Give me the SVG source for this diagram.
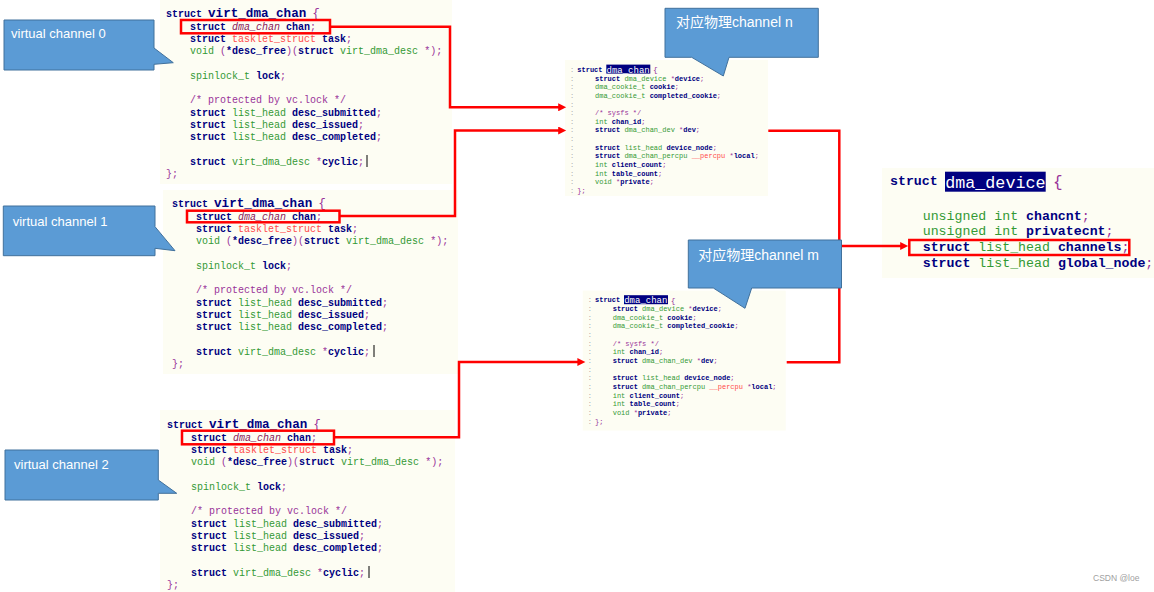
<svg xmlns="http://www.w3.org/2000/svg" width="1154" height="592" viewBox="0 0 1154 592">
<style>
.code{font-family:"Liberation Mono",monospace;font-size:10px;fill:#000080}
.small{font-family:"Liberation Mono",monospace;font-size:7px;fill:#000080}
.dev{font-family:"Liberation Mono",monospace;font-size:13.25px;fill:#000080}
.k{fill:#000080;font-weight:bold}
.g{fill:#339933}
.p{fill:#993399}
.r{fill:#ff4b4b}
.i{fill:#8b1a5a;font-style:italic}
.gut{fill:#aaaaaa}
.cbg{fill:#fdfdf3}
.hl{stroke:#ff0000;stroke-width:2.5;fill:none}
.wire{stroke:#ff0000;stroke-width:2.5;fill:none}
.callout{fill:#5b9bd5;stroke:#41719c;stroke-width:1}
.ctext{font-family:"Liberation Sans","Noto Sans CJK SC",sans-serif;font-size:13px;fill:#ffffff}
.cjk{font-size:14px}
.cursor{stroke:#000;stroke-width:1}
.big{font-size:12.6px}
.hlt{font-family:"Liberation Mono",monospace;fill:#ffffff}
</style>
<defs>
<marker id="arr" viewBox="0 0 10 10" refX="2" refY="5" markerWidth="9" markerHeight="8" markerUnits="userSpaceOnUse" orient="auto">
<path d="M0,0 L10,5 L0,10 z" fill="#ff0000"/>
</marker>
</defs>
<rect width="1154" height="592" fill="#ffffff"/>

<!-- virtual channel 0 code -->
<g id="virt-chan-0">
<rect class="cbg" x="160" y="0" width="292" height="184"/>
<text class="code" x="166" y="17"><tspan class="k">struct</tspan> <tspan class="k big">virt_dma_chan</tspan> <tspan class="p big">{</tspan></text>
<text class="code" x="190" y="29.5"><tspan class="k">struct</tspan> <tspan class="i">dma_chan</tspan> <tspan class="k">chan</tspan><tspan class="p">;</tspan></text>
<text class="code" x="190" y="41.8"><tspan class="k">struct</tspan> <tspan class="r">tasklet_struct</tspan> <tspan class="k">task</tspan><tspan class="p">;</tspan></text>
<text class="code" x="190" y="54.1"><tspan class="g">void</tspan> <tspan class="p">(</tspan><tspan class="k">*desc_free</tspan><tspan class="p">)(</tspan><tspan class="k">struct</tspan> <tspan class="g">virt_dma_desc</tspan> <tspan class="p">*);</tspan></text>
<text class="code" x="190" y="78.7"><tspan class="g">spinlock_t</tspan> <tspan class="k">lock</tspan><tspan class="p">;</tspan></text>
<text class="code" x="190" y="103.3"><tspan class="p">/* protected by vc.lock */</tspan></text>
<text class="code" x="190" y="115.6"><tspan class="k">struct</tspan> <tspan class="g">list_head</tspan> <tspan class="k">desc_submitted</tspan><tspan class="p">;</tspan></text>
<text class="code" x="190" y="127.9"><tspan class="k">struct</tspan> <tspan class="g">list_head</tspan> <tspan class="k">desc_issued</tspan><tspan class="p">;</tspan></text>
<text class="code" x="190" y="140.2"><tspan class="k">struct</tspan> <tspan class="g">list_head</tspan> <tspan class="k">desc_completed</tspan><tspan class="p">;</tspan></text>
<text class="code" x="190" y="164.8"><tspan class="k">struct</tspan> <tspan class="g">virt_dma_desc</tspan> <tspan class="p">*</tspan><tspan class="k">cyclic</tspan><tspan class="p">;</tspan></text>
<text class="code" x="166" y="177.1"><tspan class="p">};</tspan></text>
<line class="cursor" x1="367" y1="155" x2="367" y2="167"/>
<rect class="hl" x="181" y="20" width="149" height="13.3"/>
</g>

<!-- virtual channel 1 code -->
<g id="virt-chan-1" transform="translate(6,190)">
<rect class="cbg" x="157" y="0" width="295" height="184"/>
<text class="code" x="166" y="17"><tspan class="k">struct</tspan> <tspan class="k big">virt_dma_chan</tspan> <tspan class="p big">{</tspan></text>
<text class="code" x="190" y="29.5"><tspan class="k">struct</tspan> <tspan class="i">dma_chan</tspan> <tspan class="k">chan</tspan><tspan class="p">;</tspan></text>
<text class="code" x="190" y="41.8"><tspan class="k">struct</tspan> <tspan class="r">tasklet_struct</tspan> <tspan class="k">task</tspan><tspan class="p">;</tspan></text>
<text class="code" x="190" y="54.1"><tspan class="g">void</tspan> <tspan class="p">(</tspan><tspan class="k">*desc_free</tspan><tspan class="p">)(</tspan><tspan class="k">struct</tspan> <tspan class="g">virt_dma_desc</tspan> <tspan class="p">*);</tspan></text>
<text class="code" x="190" y="78.7"><tspan class="g">spinlock_t</tspan> <tspan class="k">lock</tspan><tspan class="p">;</tspan></text>
<text class="code" x="190" y="103.3"><tspan class="p">/* protected by vc.lock */</tspan></text>
<text class="code" x="190" y="115.6"><tspan class="k">struct</tspan> <tspan class="g">list_head</tspan> <tspan class="k">desc_submitted</tspan><tspan class="p">;</tspan></text>
<text class="code" x="190" y="127.9"><tspan class="k">struct</tspan> <tspan class="g">list_head</tspan> <tspan class="k">desc_issued</tspan><tspan class="p">;</tspan></text>
<text class="code" x="190" y="140.2"><tspan class="k">struct</tspan> <tspan class="g">list_head</tspan> <tspan class="k">desc_completed</tspan><tspan class="p">;</tspan></text>
<text class="code" x="190" y="164.8"><tspan class="k">struct</tspan> <tspan class="g">virt_dma_desc</tspan> <tspan class="p">*</tspan><tspan class="k">cyclic</tspan><tspan class="p">;</tspan></text>
<text class="code" x="166" y="177.1"><tspan class="p">};</tspan></text>
<line class="cursor" x1="368" y1="155" x2="368" y2="167"/>
<rect class="hl" x="181" y="20.7" width="152.5" height="11.6"/>
</g>

<!-- virtual channel 2 code -->
<g id="virt-chan-2" transform="translate(1,411)">
<rect class="cbg" x="159" y="-1" width="295" height="182"/>
<text class="code" x="166" y="17"><tspan class="k">struct</tspan> <tspan class="k big">virt_dma_chan</tspan> <tspan class="p big">{</tspan></text>
<text class="code" x="190" y="29.5"><tspan class="k">struct</tspan> <tspan class="i">dma_chan</tspan> <tspan class="k">chan</tspan><tspan class="p">;</tspan></text>
<text class="code" x="190" y="41.8"><tspan class="k">struct</tspan> <tspan class="r">tasklet_struct</tspan> <tspan class="k">task</tspan><tspan class="p">;</tspan></text>
<text class="code" x="190" y="54.1"><tspan class="g">void</tspan> <tspan class="p">(</tspan><tspan class="k">*desc_free</tspan><tspan class="p">)(</tspan><tspan class="k">struct</tspan> <tspan class="g">virt_dma_desc</tspan> <tspan class="p">*);</tspan></text>
<text class="code" x="190" y="78.7"><tspan class="g">spinlock_t</tspan> <tspan class="k">lock</tspan><tspan class="p">;</tspan></text>
<text class="code" x="190" y="103.3"><tspan class="p">/* protected by vc.lock */</tspan></text>
<text class="code" x="190" y="115.6"><tspan class="k">struct</tspan> <tspan class="g">list_head</tspan> <tspan class="k">desc_submitted</tspan><tspan class="p">;</tspan></text>
<text class="code" x="190" y="127.9"><tspan class="k">struct</tspan> <tspan class="g">list_head</tspan> <tspan class="k">desc_issued</tspan><tspan class="p">;</tspan></text>
<text class="code" x="190" y="140.2"><tspan class="k">struct</tspan> <tspan class="g">list_head</tspan> <tspan class="k">desc_completed</tspan><tspan class="p">;</tspan></text>
<text class="code" x="190" y="164.8"><tspan class="k">struct</tspan> <tspan class="g">virt_dma_desc</tspan> <tspan class="p">*</tspan><tspan class="k">cyclic</tspan><tspan class="p">;</tspan></text>
<text class="code" x="166" y="177.1"><tspan class="p">};</tspan></text>
<line class="cursor" x1="368" y1="155" x2="368" y2="167"/>
<rect class="hl" x="181" y="19.7" width="152" height="13.6"/>
</g>

<!-- physical dma_chan n -->
<g id="dma-chan-n">
<rect class="cbg" x="565" y="60" width="203" height="136"/>
<g class="small">
<text x="570" y="71.9" class="gut">:</text><text x="570" y="80.55" class="gut">:</text><text x="570" y="89.2" class="gut">:</text><text x="570" y="97.85" class="gut">:</text><text x="570" y="106.5" class="gut">:</text><text x="570" y="115.15" class="gut">:</text><text x="570" y="123.8" class="gut">:</text><text x="570" y="132.45" class="gut">:</text><text x="570" y="141.1" class="gut">:</text><text x="570" y="149.75" class="gut">:</text><text x="570" y="158.4" class="gut">:</text><text x="570" y="167.05" class="gut">:</text><text x="570" y="175.7" class="gut">:</text><text x="570" y="184.35" class="gut">:</text><text x="570" y="193" class="gut">:</text>
</g>
<text class="small" x="577.3" y="71.9"><tspan class="k">struct</tspan></text>
<rect x="606.3" y="64.6" width="44" height="9" fill="#000080"/>
<text class="hlt" x="606.5" y="72.6" style="font-size:9px">dma_chan</text>
<text class="small" x="653" y="72.2" style="font-size:8px"><tspan class="p">{</tspan></text>
<text class="small" x="595" y="80.55"><tspan class="k">struct</tspan> <tspan class="g">dma_device</tspan> <tspan class="p">*</tspan><tspan class="k">device</tspan><tspan class="p">;</tspan></text>
<text class="small" x="595" y="89.2"><tspan class="g">dma_cookie_t</tspan> <tspan class="k">cookie</tspan><tspan class="p">;</tspan></text>
<text class="small" x="595" y="97.85"><tspan class="g">dma_cookie_t</tspan> <tspan class="k">completed_cookie</tspan><tspan class="p">;</tspan></text>
<text class="small" x="595" y="115.15"><tspan class="p">/* sysfs */</tspan></text>
<text class="small" x="595" y="123.8"><tspan class="g">int</tspan> <tspan class="k">chan_id</tspan><tspan class="p">;</tspan></text>
<text class="small" x="595" y="132.45"><tspan class="k">struct</tspan> <tspan class="g">dma_chan_dev</tspan> <tspan class="p">*</tspan><tspan class="k">dev</tspan><tspan class="p">;</tspan></text>
<text class="small" x="595" y="149.75"><tspan class="k">struct</tspan> <tspan class="g">list_head</tspan> <tspan class="k">device_node</tspan><tspan class="p">;</tspan></text>
<text class="small" x="595" y="158.4"><tspan class="k">struct</tspan> <tspan class="g">dma_chan_percpu</tspan> <tspan class="r">__percpu</tspan> <tspan class="p">*</tspan><tspan class="k">local</tspan><tspan class="p">;</tspan></text>
<text class="small" x="595" y="167.05"><tspan class="g">int</tspan> <tspan class="k">client_count</tspan><tspan class="p">;</tspan></text>
<text class="small" x="595" y="175.7"><tspan class="g">int</tspan> <tspan class="k">table_count</tspan><tspan class="p">;</tspan></text>
<text class="small" x="595" y="184.35"><tspan class="g">void</tspan> <tspan class="p">*</tspan><tspan class="k">private</tspan><tspan class="p">;</tspan></text>
<text class="small" x="577.3" y="193"><tspan class="p">};</tspan></text>
</g>

<!-- physical dma_chan m -->
<g id="dma-chan-m" transform="translate(17.7,230.6)">
<rect class="cbg" x="565" y="60" width="203" height="140"/>
<g class="small">
<text x="570" y="71.9" class="gut">:</text><text x="570" y="80.55" class="gut">:</text><text x="570" y="89.2" class="gut">:</text><text x="570" y="97.85" class="gut">:</text><text x="570" y="106.5" class="gut">:</text><text x="570" y="115.15" class="gut">:</text><text x="570" y="123.8" class="gut">:</text><text x="570" y="132.45" class="gut">:</text><text x="570" y="141.1" class="gut">:</text><text x="570" y="149.75" class="gut">:</text><text x="570" y="158.4" class="gut">:</text><text x="570" y="167.05" class="gut">:</text><text x="570" y="175.7" class="gut">:</text><text x="570" y="184.35" class="gut">:</text><text x="570" y="193" class="gut">:</text>
</g>
<text class="small" x="577.3" y="71.9"><tspan class="k">struct</tspan></text>
<rect x="606.3" y="64.6" width="44" height="9" fill="#000080"/>
<text class="hlt" x="606.5" y="72.6" style="font-size:9px">dma_chan</text>
<text class="small" x="653" y="72.2" style="font-size:8px"><tspan class="p">{</tspan></text>
<text class="small" x="595" y="80.55"><tspan class="k">struct</tspan> <tspan class="g">dma_device</tspan> <tspan class="p">*</tspan><tspan class="k">device</tspan><tspan class="p">;</tspan></text>
<text class="small" x="595" y="89.2"><tspan class="g">dma_cookie_t</tspan> <tspan class="k">cookie</tspan><tspan class="p">;</tspan></text>
<text class="small" x="595" y="97.85"><tspan class="g">dma_cookie_t</tspan> <tspan class="k">completed_cookie</tspan><tspan class="p">;</tspan></text>
<text class="small" x="595" y="115.15"><tspan class="p">/* sysfs */</tspan></text>
<text class="small" x="595" y="123.8"><tspan class="g">int</tspan> <tspan class="k">chan_id</tspan><tspan class="p">;</tspan></text>
<text class="small" x="595" y="132.45"><tspan class="k">struct</tspan> <tspan class="g">dma_chan_dev</tspan> <tspan class="p">*</tspan><tspan class="k">dev</tspan><tspan class="p">;</tspan></text>
<text class="small" x="595" y="149.75"><tspan class="k">struct</tspan> <tspan class="g">list_head</tspan> <tspan class="k">device_node</tspan><tspan class="p">;</tspan></text>
<text class="small" x="595" y="158.4"><tspan class="k">struct</tspan> <tspan class="g">dma_chan_percpu</tspan> <tspan class="r">__percpu</tspan> <tspan class="p">*</tspan><tspan class="k">local</tspan><tspan class="p">;</tspan></text>
<text class="small" x="595" y="167.05"><tspan class="g">int</tspan> <tspan class="k">client_count</tspan><tspan class="p">;</tspan></text>
<text class="small" x="595" y="175.7"><tspan class="g">int</tspan> <tspan class="k">table_count</tspan><tspan class="p">;</tspan></text>
<text class="small" x="595" y="184.35"><tspan class="g">void</tspan> <tspan class="p">*</tspan><tspan class="k">private</tspan><tspan class="p">;</tspan></text>
<text class="small" x="577.3" y="193"><tspan class="p">};</tspan></text>
</g>

<!-- dma_device -->
<g id="dma-device">
<rect class="cbg" x="882" y="168" width="272" height="110"/>
<text class="dev" x="890" y="184.6"><tspan class="k">struct</tspan></text>
<rect x="945" y="171.7" width="100.7" height="20" fill="#000080"/>
<text class="hlt" x="945.3" y="187.5" style="font-size:16.7px">dma_device</text>
<text class="dev" x="1053" y="187" style="font-size:16px"><tspan class="p">{</tspan></text>
<text class="dev" x="922.7" y="219.6"><tspan class="g">unsigned int</tspan> <tspan class="k">chancnt</tspan><tspan class="p">;</tspan></text>
<text class="dev" x="922.7" y="235.1"><tspan class="g">unsigned int</tspan> <tspan class="k">privatecnt</tspan><tspan class="p">;</tspan></text>
<text class="dev" x="922.7" y="251.3"><tspan class="k">struct</tspan> <tspan class="g">list_head</tspan> <tspan class="k">channels</tspan><tspan class="p">;</tspan></text>
<text class="dev" x="922.7" y="267.3"><tspan class="k">struct</tspan> <tspan class="g">list_head</tspan> <tspan class="k">global_node</tspan><tspan class="p">;</tspan></text>
<rect class="hl" x="909.3" y="240" width="220" height="15"/>
</g>

<!-- connectors -->
<g id="connectors">
<path class="wire" d="M330,26.7 H450 V107.3 H559.8" marker-end="url(#arr)"/>
<path class="wire" d="M339.5,216 H455 V130.5 H559.8" marker-end="url(#arr)"/>
<path class="wire" d="M334,437.3 H459 V362 H579" marker-end="url(#arr)"/>
<path class="wire" d="M768.3,130.7 H839.3 V362.3 H786.7"/>
<path class="wire" d="M839.3,246 H901.8" marker-end="url(#arr)"/>
</g>

<!-- callouts -->
<g id="callout-vc0">
<path class="callout" d="M4,20 H154 V48 L173.3,62.7 L154,64.3 V70 H4 Z"/>
<text class="ctext" x="11" y="38">virtual channel 0</text>
</g>
<g id="callout-vc1">
<path class="callout" d="M3.3,206 H155 V226.7 L175,250.7 L155,248.3 V255.7 H3.3 Z"/>
<text class="ctext" x="12.7" y="226">virtual channel 1</text>
</g>
<g id="callout-vc2">
<path class="callout" d="M5,450 H158.3 V480 L176.7,493.3 L158.3,493.3 V500 H5 Z"/>
<text class="ctext" x="14" y="468.5">virtual channel 2</text>
</g>
<g id="callout-n">
<path class="callout" d="M665,8.3 H818.3 V57.3 H729 L723.3,76 L691.7,57.3 H665 Z"/>
<text class="ctext cjk" x="676" y="26.7">对应物理channel n</text>
</g>
<g id="callout-m">
<path class="callout" d="M688.3,240 H841.5 V288 H751.7 L745,308.3 L713.3,288 H688.3 Z"/>
<text class="ctext cjk" x="698.3" y="260">对应物理channel m</text>
</g>

<text x="1093" y="581" font-family="Liberation Sans, sans-serif" font-size="8.5" fill="#a0a0a0">CSDN @loe</text>
</svg>
